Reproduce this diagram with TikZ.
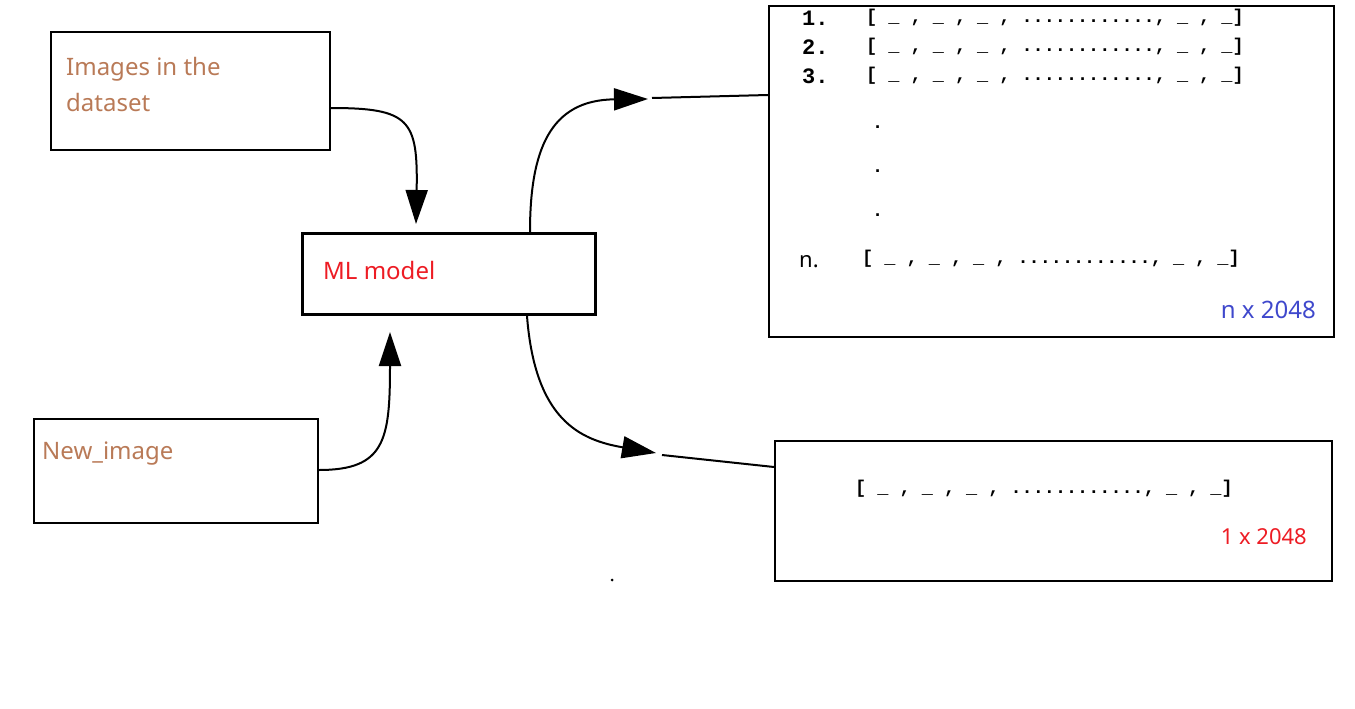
\documentclass[tikz,border=0pt]{standalone}
\usepackage{fontspec}
\setmainfont{Noto Sans}
\newfontfamily\monofont{Liberation Mono}
\usetikzlibrary{arrows.meta,positioning}
\definecolor{brownish}{RGB}{185,122,87}
\definecolor{mlred}{RGB}{237,28,36}
\definecolor{dimblue}{RGB}{63,72,204}
\tikzset{
    box/.style = {draw, rectangle, line width=2pt, anchor=north west, inner sep=0pt},
    lbl/.style = {anchor=west, align=left, inner sep=0pt, font=\fontsize{24}{36}\selectfont},
    row/.style = {anchor=west, inner sep=0pt, font=\monofont\bfseries\fontsize{18.5}{20}\selectfont},
    arr/.style = {line width=2pt, -{Triangle[length=34pt,width=22pt]}},
    link/.style = {line width=2pt}
}
\begin{document}
\begin{tikzpicture}[x=1pt,y=-1pt]
    \useasboundingbox (0,0) rectangle (1355,709);
    % boxes
    \node[box, minimum width=279pt, minimum height=118pt] (images) at (50,31) {};
    \node[box, line width=3pt, minimum width=293pt, minimum height=81pt] (model) at (301,232) {};
    \node[box, minimum width=284pt, minimum height=104pt] (newimg) at (33,418) {};
    \node[box, minimum width=565pt, minimum height=331pt] (matrix) at (768,5) {};
    \node[box, minimum width=557pt, minimum height=140pt] (vector) at (774,440) {};
    % labels
    \node[lbl, text=brownish] (imagestxt) at (66,84) {Images in the\\dataset};
    \node[lbl, text=mlred] (modeltxt) at (323,270) {ML model};
    \node[lbl, text=brownish] (newimgtxt) at (42,454) {New\_image};
    % matrix rows
    \foreach \n/\y in {1./18, 2./47, 3./76}{
        \node[row, font=\monofont\bfseries\fontsize{22}{24}\selectfont] at (802,\y) {\n};
        \node[row] at (866,\y) {[ \_ , \_ , \_ , ............, \_ , \_]};
    }
    \foreach \y in {127,171,215}
        \node[row] at (872,\y) {.};
    \node[lbl, font=\fontsize{22}{24}\selectfont] (nlab) at (799,262) {n.};
    \node[row] at (862,259) {[ \_ , \_ , \_ , ............, \_ , \_]};
    \node[anchor=east, inner sep=0pt, text=dimblue, font=\fontsize{24}{26}\selectfont] (ndim) at (1316,310) {n x 2048};
    % vector row
    \node[row] (vrow) at (855,489) {[ \_ , \_ , \_ , ............, \_ , \_]};
    \node[anchor=east, inner sep=0pt, text=mlred, font=\fontsize{22}{24}\selectfont] (vdim) at (1307,537) {1 x 2048};
    % connectors
    \coordinate (tipA) at (416,224);
    \coordinate (tipB) at (390,332);
    \coordinate (tipC) at (648,99);
    \coordinate (tipD) at (656,453);
    \draw[arr] (images.east |- 0,108) .. controls (410,108) and (418,120) .. (tipA);
    \draw[arr] (newimg.east |- 0,470) .. controls (385,470) and (390,440) .. (tipB);
    \draw[arr] (model.north -| 530,0) .. controls (530,150) and (550,100) .. (tipC);
    \draw[link] (652,98) -- (matrix.west |- 0,95);
    \draw[arr] (model.south -| 527,0) .. controls (535,420) and (580,440) .. (tipD);
    \draw[link] (662,455) -- (vector.west |- 0,467);
    \fill (612,580) circle (1.5pt);
\end{tikzpicture}
\end{document}
